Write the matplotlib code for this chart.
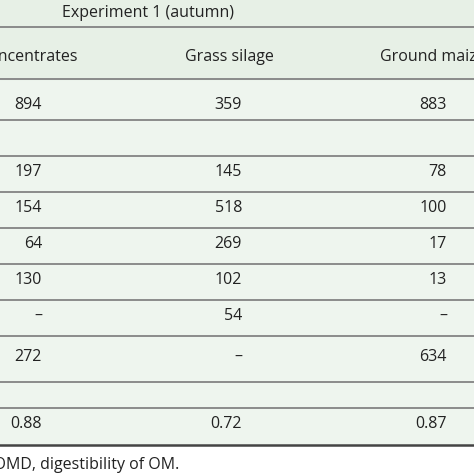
import matplotlib.pyplot as plt
from matplotlib.patches import Rectangle

title = "Experiment 1 (autumn)"
columns = ["Concentrates", "Grass silage", "Ground maize"]
concentrates = ["894", "", "197", "154", "64", "130", "–", "272", "", "0.88"]
grass_silage = ["359", "", "145", "518", "269", "102", "54", "–", "", "0.72"]
ground_maize = ["883", "", "78", "100", "17", "13", "–", "634", "", "0.87"]
footnote = "DOMD, digestibility of OM."

# row boundaries in pixels (top-down)
row_edges = [79, 120, 156, 192, 228, 264, 300, 336, 382, 408, 445]

fig = plt.figure(figsize=(4.74, 4.74), dpi=100)
ax = fig.add_axes([0, 0, 1, 1])
ax.set_xlim(0, 474)
ax.set_ylim(474, 0)
ax.axis("off")

ax.add_patch(Rectangle((0, 0), 474, 445, color="#eef5ee", zorder=0))
ax.add_patch(Rectangle((0, 0), 474, 79, color="#e7f0e6", zorder=0))

font = dict(family=["Open Sans", "DejaVu Sans"], fontsize=11.5, color="#222222")

ax.text(62, 13, title, ha="left", va="center", **font)
ax.axhline(27, color="#7a7a7a", lw=1.2)

ax.text(78, 57, columns[0], ha="right", va="center", **font)
ax.text(229, 57, columns[1], ha="center", va="center", **font)
ax.text(380, 57, columns[2], ha="left", va="center", **font)

for y in row_edges[:-1]:
    ax.axhline(y, color="#7a7a7a", lw=1.2)
ax.axhline(row_edges[-1], color="#444444", lw=1.8)

for i in range(len(concentrates)):
    yc = (row_edges[i] + row_edges[i + 1]) / 2 - 2
    if i == 0:
        yc = 105
    ax.text(42, yc, concentrates[i], ha="right", va="center", **font)
    ax.text(242, yc, grass_silage[i], ha="right", va="center", **font)
    ax.text(447, yc, ground_maize[i], ha="right", va="center", **font)

ax.text(-18, 465, footnote, ha="left", va="center", **font)

fig.savefig("out.png", dpi=100)
